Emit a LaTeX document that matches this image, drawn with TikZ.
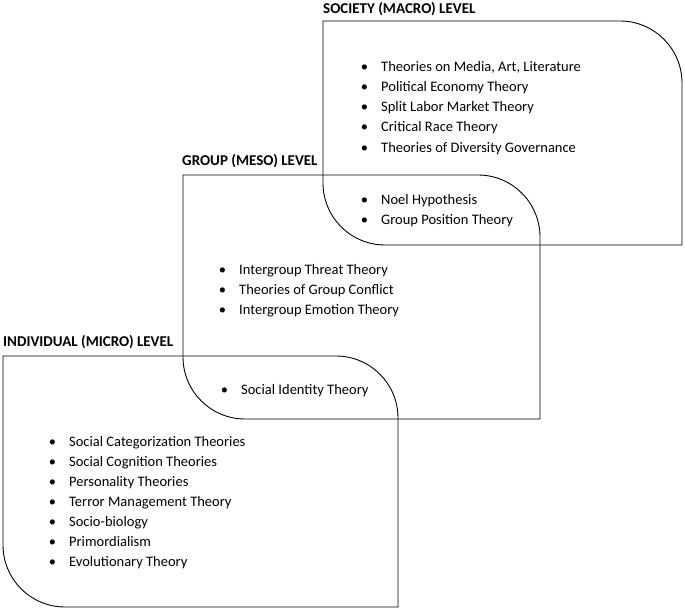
\documentclass[tikz,border=0pt]{standalone}
\usepackage{fontspec}
\setmainfont{Carlito}
\begin{document}
\begin{tikzpicture}[x=1pt,y=1pt,
  levelbox/.style={draw=black,line width=0.9pt},
  header/.style={anchor=base west,inner sep=0pt,font=\fontsize{15}{17}\selectfont\bfseries},
  item/.style={anchor=base west,inner sep=0pt,font=\fontsize{14.5}{17}\selectfont}]
\useasboundingbox (0,0) rectangle (685,610);
\newcommand{\bul}{\llap{\textbullet\hspace{13pt}}}
% society box
\draw[levelbox] (323,589) -- (620,589) arc[start angle=90,end angle=0,radius=62] -- (682,365) -- (385,365) arc[start angle=270,end angle=180,radius=62] -- cycle;
% group box
\draw[levelbox] (183,435) -- (478,435) arc[start angle=90,end angle=0,radius=62] -- (540,191) -- (245,191) arc[start angle=270,end angle=180,radius=62] -- cycle;
% individual box
\draw[levelbox] (3,254) -- (336,254) arc[start angle=90,end angle=0,radius=62] -- (398,3) -- (65,3) arc[start angle=270,end angle=180,radius=62] -- cycle;
% headers
\node[header] (hs) at (323,596) {SOCIETY (MACRO) LEVEL};
\node[header] (hg) at (182,444) {GROUP (MESO) LEVEL};
\node[header] (hi) at (3,263.5) {INDIVIDUAL (MICRO) LEVEL};
% society items
\node[item] (s1) at (381,538) {\bul Theories on Media, Art, Literature};
\node[item] (s2) at (381,518) {\bul Political Economy Theory};
\node[item] (s3) at (381,498) {\bul Split Labor Market Theory};
\node[item] (s4) at (381,478) {\bul Critical Race Theory};
\node[item] (s5) at (381,457.5) {\bul Theories of Diversity Governance};
\node[item] (s6) at (381,405) {\bul Noel Hypothesis};
\node[item] (s7) at (381,385) {\bul Group Position Theory};
% group items
\node[item] (g1) at (239,335) {\bul Intergroup Threat Theory};
\node[item] (g2) at (239,315) {\bul Theories of Group Conflict};
\node[item] (g3) at (239,295) {\bul Intergroup Emotion Theory};
\node[item] (g4) at (241,215) {\bul Social Identity Theory};
% individual items
\node[item] (i1) at (69,163) {\bul Social Categorization Theories};
\node[item] (i2) at (69,143) {\bul Social Cognition Theories};
\node[item] (i3) at (69,123) {\bul Personality Theories};
\node[item] (i4) at (69,103) {\bul Terror Management Theory};
\node[item] (i5) at (69,83) {\bul Socio-biology};
\node[item] (i6) at (69,63) {\bul Primordialism};
\node[item] (i7) at (69,43) {\bul Evolutionary Theory};
\end{tikzpicture}
\end{document}
